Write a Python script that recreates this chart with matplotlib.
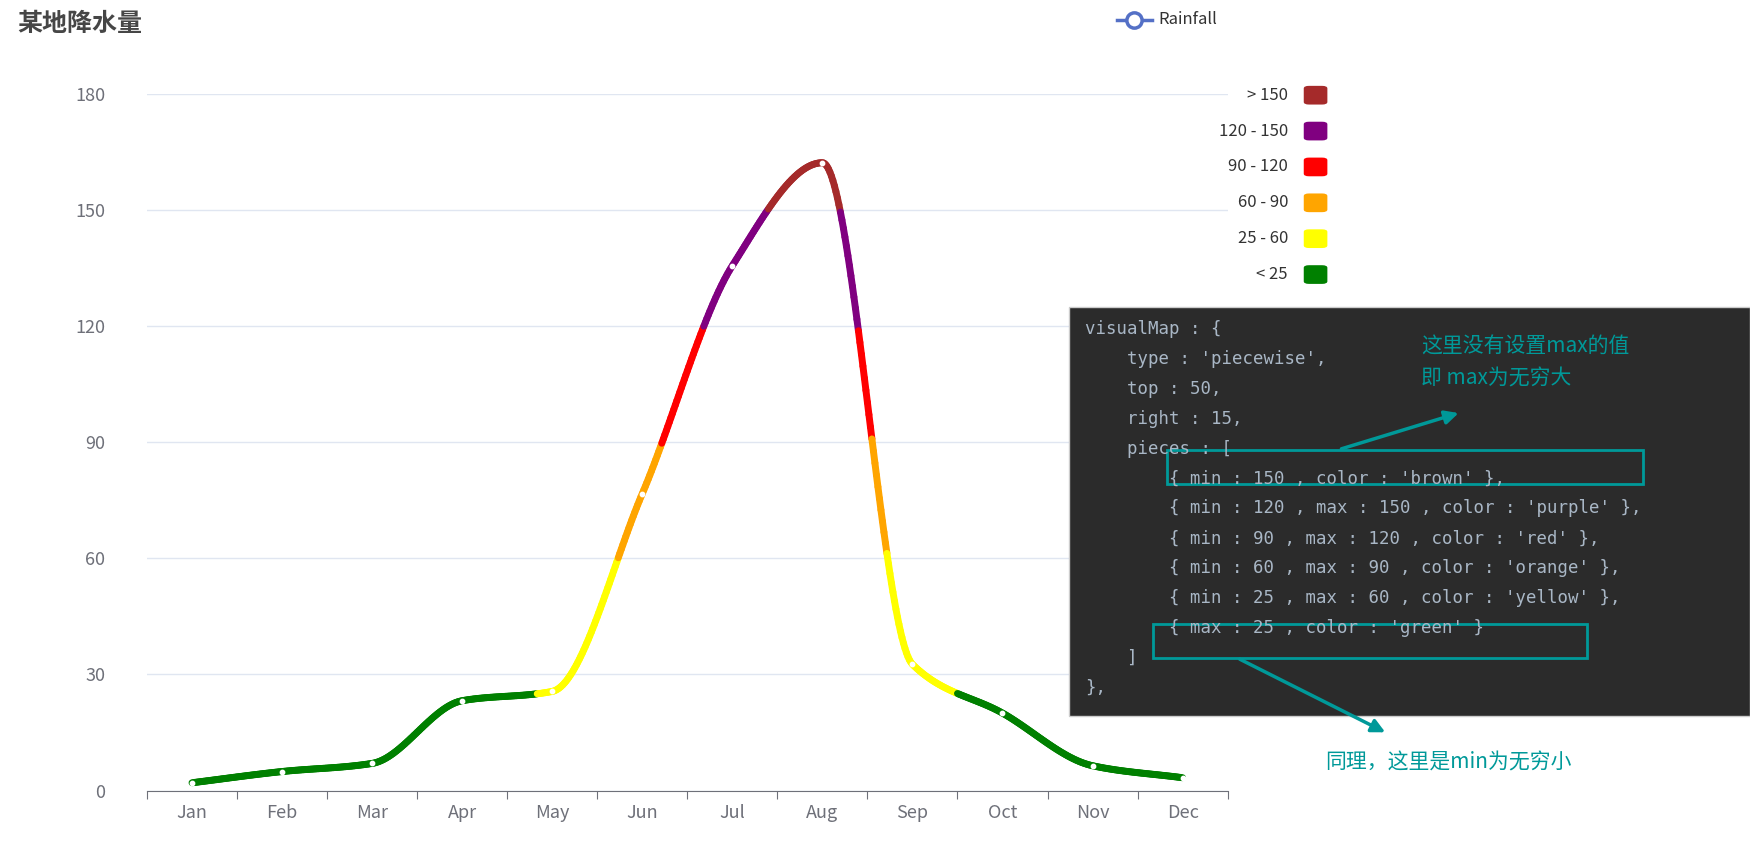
import numpy as np
import matplotlib.pyplot as plt
from matplotlib.collections import LineCollection
from matplotlib.patches import FancyBboxPatch, Rectangle

plt.rcParams['font.family'] = ['Noto Sans CJK SC', 'DejaVu Sans']

months = ['Jan', 'Feb', 'Mar', 'Apr', 'May', 'Jun', 'Jul', 'Aug', 'Sep', 'Oct', 'Nov', 'Dec']
rainfall = [2.0, 4.9, 7.0, 23.2, 25.6, 76.7, 135.6, 162.2, 32.6, 20.0, 6.4, 3.3]
piece_bounds = [25, 60, 90, 120, 150]
piece_colors = ['green', 'yellow', 'orange', 'red', 'purple', 'brown']
piece_labels = ['< 25', '25 - 60', '60 - 90', '90 - 120', '120 - 150', '> 150']


def smooth(x, y, n=60):
    # monotone cubic hermite, close to echarts smooth line
    x = np.asarray(x, float); y = np.asarray(y, float)
    d = np.diff(y) / np.diff(x)
    m = np.zeros_like(y)
    m[0], m[-1] = d[0], d[-1]
    for i in range(1, len(y) - 1):
        m[i] = 0 if d[i - 1] * d[i] <= 0 else 2 / (1 / d[i - 1] + 1 / d[i])
    xs, ys = [], []
    for i in range(len(x) - 1):
        t = np.linspace(0, 1, n, endpoint=False)
        h = x[i + 1] - x[i]
        h00 = 2*t**3 - 3*t**2 + 1; h10 = t**3 - 2*t**2 + t
        h01 = -2*t**3 + 3*t**2; h11 = t**3 - t**2
        xs.append(x[i] + t * h)
        ys.append(h00*y[i] + h10*h*m[i] + h01*y[i+1] + h11*h*m[i+1])
    xs.append([x[-1]]); ys.append([y[-1]])
    return np.concatenate(xs), np.concatenate(ys)


fig = plt.figure(figsize=(17.5, 8.5), dpi=100)
ax = fig.add_axes([0.084, 0.070, 0.6175, 0.8196])

xi = np.arange(len(months))
sx, sy = smooth(xi, rainfall)
pts = np.column_stack([sx, sy]).reshape(-1, 1, 2)
segs = np.concatenate([pts[:-1], pts[1:]], axis=1)
mid = (sy[:-1] + sy[1:]) / 2
cols = [piece_colors[np.searchsorted(piece_bounds, v)] for v in mid]
ax.add_collection(LineCollection(segs, colors=cols, linewidth=5, capstyle='round', zorder=3))
ax.scatter(xi, rainfall, s=10, c='white', zorder=4)

ax.set_xlim(-0.5, 11.5)
ax.set_ylim(0, 180)
ax.set_yticks(range(0, 181, 30))
ax.grid(axis='y', color='#e0e6f1', linewidth=1)
ax.set_axisbelow(True)
ax.set_xticks(np.arange(-0.5, 12, 1))
ax.set_xticklabels([])
ax.set_xticks(xi, minor=True)
ax.set_xticklabels(months, minor=True, fontsize=13, color='#6e7079')
ax.tick_params(axis='x', which='major', length=6, color='#6e7079')
ax.tick_params(axis='x', which='minor', length=0, pad=10)
ax.tick_params(axis='y', length=0, labelsize=13, labelcolor='#6e7079', pad=30)
for s in ['top', 'right', 'left']:
    ax.spines[s].set_visible(False)
ax.spines['bottom'].set_color('#6e7079')

fig.text(0.010, 0.972, '某地降水量', fontsize=18, fontweight='bold', color='#464646', va='center')
# series legend
fig.add_artist(plt.Line2D([0.638, 0.658], [0.977, 0.977], color='#5470c6', lw=2.5))
fig.add_artist(plt.Line2D([0.648], [0.977], marker='o', ms=11, mfc='white', mec='#5470c6', mew=2.5))
fig.text(0.662, 0.977, 'Rainfall', fontsize=12, color='#333333', va='center')

# visualMap pieces
for i, (lab, c) in enumerate(zip(piece_labels[::-1], piece_colors[::-1])):
    y = 0.888 - i * 0.0422
    fig.text(0.736, y, lab, fontsize=12, color='#333333', ha='right', va='center')
    fig.add_artist(FancyBboxPatch((0.745, y - 0.011), 0.0135, 0.022, boxstyle='round,pad=0,rounding_size=0.003',
                                  fc=c, ec='none', transform=fig.transFigure))

# code screenshot overlay
fig.add_artist(Rectangle((0.611, 0.158), 0.389, 0.481, fc='#2b2b2b', ec='#cccccc', lw=1, transform=fig.transFigure))
code = ["visualMap : {",
        "    type : 'piecewise',",
        "    top : 50,",
        "    right : 15,",
        "    pieces : [",
        "        { min : 150 , color : 'brown' },",
        "        { min : 120 , max : 150 , color : 'purple' },",
        "        { min : 90 , max : 120 , color : 'red' },",
        "        { min : 60 , max : 90 , color : 'orange' },",
        "        { min : 25 , max : 60 , color : 'yellow' },",
        "        { max : 25 , color : 'green' }",
        "    ]",
        "},"]
for i, line in enumerate(code):
    fig.text(0.620, 0.613 - i * 0.0352, line, family='DejaVu Sans Mono', fontsize=12.5, color='#a9b7c6', va='center')
teal = '#009999'
fig.add_artist(Rectangle((0.667, 0.431), 0.272, 0.040, fc='none', ec=teal, lw=2, transform=fig.transFigure))
fig.add_artist(Rectangle((0.659, 0.226), 0.248, 0.040, fc='none', ec=teal, lw=2, transform=fig.transFigure))
fig.text(0.812, 0.592, '这里没有设置max的值', fontsize=15, color=teal, va='center')
fig.text(0.812, 0.555, '即 max为无穷大', fontsize=15, color=teal, va='center')
fig.text(0.757, 0.103, '同理，这里是min为无穷小', fontsize=15, color=teal, va='center')
fig.add_artist(plt.Annotation('', xy=(0.835, 0.515), xytext=(0.765, 0.471), xycoords='figure fraction',
                              arrowprops=dict(arrowstyle='-|>', color=teal, lw=2.5, mutation_scale=20)))
fig.add_artist(plt.Annotation('', xy=(0.793, 0.137), xytext=(0.707, 0.226), xycoords='figure fraction',
                              arrowprops=dict(arrowstyle='-|>', color=teal, lw=2.5, mutation_scale=20)))

fig.savefig('out.png', dpi=100, facecolor='white')
